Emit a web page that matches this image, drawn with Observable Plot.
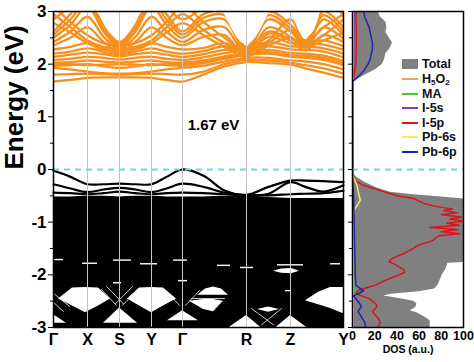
<!DOCTYPE html>
<html><head><meta charset="utf-8">
<script src="https://cdn.jsdelivr.net/npm/d3@7"></script>
<script src="https://cdn.jsdelivr.net/npm/@observablehq/plot@0.6"></script>
<style>
body{margin:0;background:#fff;}
#wrap{position:relative;width:474px;height:362px;overflow:hidden;font-family:"Liberation Sans",Arial,sans-serif;}
#band,#dos{position:absolute;top:0;}
#band{left:0;} #dos{left:345px;}
#legend{position:absolute;left:402px;top:56px;font-weight:bold;font-size:12.5px;color:#111;}
.row{display:flex;align-items:center;height:14.5px;}
.row.first{height:16px;}
.sw{display:inline-block;width:16px;margin-right:4px;}
sub{font-size:8px;vertical-align:-2px;line-height:0;}
</style></head>
<body><div id="wrap"><div id="band"></div><div id="dos"></div><div id="legend"></div></div>
<script>
// ---------- band structure data ----------
const kGrid = [0,17,34,50,66,82,98,113,129,150,171,193,215,237,252,270,290];
const symK = [0,34,66,98,129,193,237,290];
const symLabels = ["Γ","X","S","Y","Γ","R","Z","Y"];
const yTicks = [-3,-2,-1,0,1,2,3];
const yMinor = [-2.5,-1.5,-0.5,0.5,1.5,2.5];

// conduction bands (eV at kGrid)
const c1 = [1.67,1.70,1.74,1.75,1.75,1.75,1.74,1.70,1.67,1.80,1.96,2.04,2.02,1.99,1.92,1.84,1.74];
const c2 = [1.80,1.81,1.82,1.81,1.80,1.81,1.82,1.81,1.80,1.86,2.00,2.08,2.07,2.03,1.98,1.92,1.82];
const c3 = [1.93,1.90,1.86,1.83,1.82,1.83,1.86,1.90,1.93,1.97,2.05,2.12,2.12,2.07,2.05,2.00,1.90];
const c4 = [1.97,1.98,2.00,1.96,1.93,1.96,2.00,1.98,1.97,2.02,2.10,2.17,2.20,2.14,2.12,2.08,1.98];
const d2 = [2.00,2.00,1.98,1.99,2.00,1.99,1.98,2.00,2.00,2.04,2.12,2.19,2.23,2.17,2.16,2.12,2.02];
const c5 = [2.03,2.04,2.07,2.05,2.03,2.05,2.07,2.04,2.03,2.07,2.15,2.22,2.27,2.21,2.20,2.16,2.06];
const c6 = [2.08,2.10,2.14,2.12,2.09,2.12,2.14,2.10,2.08,2.13,2.21,2.27,2.34,2.28,2.27,2.24,2.13];
const c7 = [2.14,2.18,2.22,2.19,2.15,2.19,2.22,2.18,2.14,2.19,2.27,2.30,2.42,2.34,2.33,2.30,2.20];
const c8 = [2.20,2.24,2.30,2.24,2.19,2.24,2.30,2.24,2.20,2.25,2.34,2.22,2.52,2.40,2.40,2.37,2.27];
const c9 = [2.28,2.33,2.40,2.30,2.22,2.30,2.40,2.33,2.28,2.31,2.40,2.26,2.62,2.48,2.42,2.45,2.34];
const hb = [2.62,2.95,3.30,2.75,2.42,2.75,3.30,2.95,2.62,2.95,3.00,2.32,3.00,2.75,2.45,3.00,2.70];
const u4 = [2.56,2.85,3.20,2.68,2.38,2.68,3.20,2.85,2.56,2.88,2.93,2.28,2.93,2.68,2.40,2.93,2.62];
const u1 = [2.50,2.75,3.10,2.62,2.34,2.62,3.10,2.75,2.50,2.80,2.85,2.24,2.85,2.62,2.36,2.85,2.55];
const u2 = [2.42,2.62,2.90,2.52,2.29,2.52,2.90,2.62,2.42,2.65,2.70,2.19,2.70,2.52,2.31,2.70,2.48];
const u3 = [2.36,2.50,2.70,2.42,2.24,2.42,2.70,2.50,2.36,2.52,2.55,2.14,2.58,2.44,2.26,2.55,2.42];
const f1 = [2.85,3.10,3.40,3.40,3.40,3.40,3.40,3.10,2.85,3.10,3.40,3.40,3.40,3.10,3.40,3.40,2.90];
const f2 = [3.10,2.80,2.55,2.40,2.35,2.40,2.55,2.80,3.10,2.80,2.50,2.25,2.45,2.85,2.42,2.70,2.95];
const f3 = [2.95,2.70,2.45,2.33,2.30,2.33,2.45,2.70,2.95,2.65,2.40,2.20,2.40,2.65,2.38,2.55,2.85];
const f4 = [2.78,2.60,2.40,2.28,2.25,2.28,2.40,2.60,2.78,2.55,2.32,2.15,2.35,2.50,2.32,2.45,2.60];
const condBands = [c1,c2,c3,c4,d2,c5,c6,c7,c8,c9,hb,u4,u1,u2,u3,f1,f2,f3,f4];
// open (empty) regions above the highest conduction bands: [k, lower, upper]
const cHoleS = [[43,3.0,3.0],[47,2.9,3.0],[52,2.71,3.0],[58,2.56,3.0],[66,2.47,3.0],[74,2.56,3.0],[80,2.71,3.0],[85,2.9,3.0],[89,3.0,3.0]];
const cHoleR = [[170,3.0,3.0],[177,2.72,3.0],[186,2.45,3.0],[193,2.37,3.0],[200,2.45,3.0],[209,2.72,3.0],[216,3.0,3.0]];
const cHoleZ = [[240,2.92,3.0],[246,2.62,3.0],[252,2.50,3.0],[260,2.62,3.0],[266,2.92,3.0]];
const condHoles = [cHoleS,cHoleR,cHoleZ];

// valence top bands and dense-region envelope
const v1 = [-0.02,-0.14,-0.28,-0.28,-0.27,-0.28,-0.28,-0.14,0.00,-0.12,-0.40,-0.48,-0.33,-0.21,-0.21,-0.22,-0.24];
const v2 = [-0.28,-0.36,-0.43,-0.38,-0.35,-0.38,-0.43,-0.36,-0.27,-0.33,-0.44,-0.49,-0.46,-0.24,-0.33,-0.42,-0.30];
const v3 = [-0.44,-0.45,-0.47,-0.45,-0.42,-0.45,-0.47,-0.45,-0.44,-0.45,-0.47,-0.49,-0.49,-0.47,-0.46,-0.45,-0.40];
const valBands = [v1,v2,v3];
const denseTop = [-0.52,-0.52,-0.51,-0.51,-0.52,-0.51,-0.51,-0.52,-0.52,-0.52,-0.51,-0.51,-0.53,-0.55,-0.55,-0.55,-0.55];

// gaps (white) inside the dense valence region: [k, lower, upper]
const holeX = [[5,-2.46,-2.46],[19,-2.59,-2.25],[32,-2.72,-2.24],[45,-2.59,-2.25],[57,-2.46,-2.46]];
const holeY = [[74,-2.46,-2.46],[86,-2.59,-2.25],[98,-2.72,-2.24],[110,-2.59,-2.25],[123,-2.46,-2.46]];
const holeS = [[50,-2.92,-2.92],[66,-2.92,-2.63],[84,-2.92,-2.92]];
const holeG0 = [[0,-2.92,-2.76],[13,-2.92,-2.92]];
const holeG1 = [[114,-2.87,-2.87],[129,-2.87,-2.68],[145,-2.87,-2.87]];
const holeGR1 = [[144,-2.39,-2.39],[152,-2.39,-2.27],[160,-2.39,-2.23],[168,-2.39,-2.27],[175,-2.39,-2.39]];
const holeGR2 = [[136,-2.5,-2.5],[150,-2.66,-2.47],[160,-2.7,-2.47],[170,-2.5,-2.5]];
const holeR = [[175,-3.01,-3.01],[193,-3.01,-2.77],[208,-3.01,-3.01]];
const holeZ = [[222,-3.01,-3.01],[237,-3.01,-2.77],[254,-3.01,-3.01]];
const holeRZ = [[204,-2.66,-2.66],[215,-2.71,-2.61],[226,-2.66,-2.66]];
const holeYend = [[252,-2.49,-2.49],[265,-2.57,-2.33],[277,-2.64,-2.24],[290,-2.74,-2.24]];
const holeZmid = [[220,-1.93,-1.93],[228,-1.97,-1.89],[238,-1.98,-1.88],[246,-1.93,-1.93]];
const holes = [holeX,holeY,holeS,holeG0,holeG1,holeGR1,holeGR2,holeR,holeZ,holeRZ,holeYend,holeZmid];
// thin white band gaps: [k, E] polylines
const gapLines = [
  [[48,-2.28],[63,-2.58]],[[53,-2.22],[70,-2.55]],[[84,-2.28],[69,-2.58]],[[79,-2.22],[62,-2.55]],
  [[112,-2.3],[126,-2.58]],[[146,-2.3],[132,-2.58]],
  [[0,-2.35],[16,-2.6]],[[0,-2.52],[10,-2.7]],[[198,-2.64],[220,-2.95]],[[228,-2.64],[208,-2.95]],
  [[138,-2.45],[171,-2.45]]
];
// short flat white dashes: [k1, k2, E]
const dashes = [[0,10,-1.71],[29,44,-1.78],[60,78,-1.72],[87,104,-1.79],[120,134,-1.72],[164,177,-1.82],
  [187,200,-1.86],[224,250,-1.81],[277,287,-1.79],[60,68,-2.15],[125,134,-2.11],[232,238,-2.3]];
const gapLabel = [{k:160, e:0.85, t:"1.67 eV"}];

// ---------- DOS data: [E, DOS] ----------
const dosTotal = [[3.0,23],[2.9,25],[2.8,30],[2.7,31],[2.6,30],[2.5,33],[2.4,36],[2.3,34],[2.2,30],[2.1,29],[2.0,27],[1.9,21],[1.8,12],[1.72,5],[1.67,0],[-0.05,0],[-0.15,4],[-0.25,12],[-0.35,22],[-0.43,34],[-0.48,55],[-0.52,80],[-0.56,100],[-0.6,115],[-1.75,115],[-1.78,86],[-1.9,84],[-2.0,81],[-2.1,79],[-2.2,77],[-2.27,74],[-2.32,60],[-2.37,35],[-2.40,28],[-2.45,42],[-2.50,55],[-2.55,58],[-2.62,57],[-2.68,52],[-2.72,58],[-2.80,65],[-2.87,70],[-3.0,70]];
const dosH5O2 = [[3,0.5],[-3,0.5]];
const dosMA = [[3,0.3],[-1.7,0.3],[-1.8,1],[-1.9,2.5],[-2.0,2.5],[-2.1,2.8],[-2.2,2.5],[-2.3,1.5],[-2.4,0.5],[-3,0.3]];
const dosI5s = [[3,1.5],[1.7,1],[1.67,0],[-0.1,0],[-2.3,0.5],[-2.5,1],[-3,1]];
const dosI5p = [[3.0,3],[2.5,3.5],[2.0,3],[1.75,1],[1.67,0],[-0.1,0],[-0.21,2.5],[-0.3,10],[-0.4,25],[-0.5,40],[-0.55,55],[-0.6,60],[-0.65,65],[-0.7,75],[-0.75,90],[-0.78,82],[-0.82,94],[-0.86,80],[-0.9,98],[-0.94,88],[-0.98,100],[-1.02,85],[-1.06,96],[-1.1,70],[-1.14,95],[-1.18,80],[-1.22,97],[-1.26,78],[-1.3,75],[-1.35,72],[-1.4,65],[-1.45,58],[-1.5,55],[-1.55,50],[-1.6,46],[-1.65,40],[-1.7,35],[-1.75,33],[-1.8,38],[-1.85,42],[-1.9,46],[-1.95,47],[-2.0,42],[-2.05,36],[-2.1,30],[-2.15,25],[-2.2,20],[-2.25,12],[-2.3,5],[-2.35,3],[-2.4,8],[-2.45,15],[-2.5,18],[-2.55,21],[-2.6,22],[-2.65,20],[-2.7,18],[-2.75,20],[-2.8,22],[-2.85,24],[-2.9,25],[-2.95,24],[-3.0,22]];
const dosPb6s = [[3,0.5],[1.67,0.3],[-0.1,0],[-0.2,2],[-0.3,4],[-0.4,5],[-0.5,6],[-0.58,7],[-0.66,5],[-0.75,2],[-0.85,1],[-1.2,0.5],[-3,0.5]];
const dosPb6p = [[3.0,10],[2.9,11],[2.8,13],[2.7,15],[2.6,16],[2.5,17],[2.4,18],[2.3,18],[2.2,17],[2.1,16],[2.0,14],[1.9,11],[1.8,7],[1.72,3],[1.67,0],[-0.1,0],[-0.5,1],[-1.0,1.5],[-1.5,2],[-2.0,2.5],[-2.2,3],[-2.3,10],[-2.35,6],[-2.4,1],[-2.5,5],[-2.6,8],[-2.7,5],[-2.8,8],[-2.9,11],[-3.0,12]];
const dosTicks = [0,20,40,60,80,100];
const seriesNames = ["Total","H5O2","MA","I-5s","I-5p","Pb-6s","Pb-6p"];
const seriesColors = ["#808080","#e9a35a","#3cc83c","#8a3fb8","#d8141e","#f2ee55","#2222b0"];
const seriesData = [dosTotal,dosH5O2,dosMA,dosI5s,dosI5p,dosPb6s,dosPb6p];

// ---------- build ----------
const FONT = "'Liberation Sans', Arial, Helvetica, sans-serif";
const ORANGE = "#f5901e";
const CYAN = "#6ed7e4";
const labelMap = new Map(symK.map((k,i)=>[k, symLabels[i]]));
const bandRows = (bands) => bands.flatMap((b,i)=>b.map((e,j)=>({k:kGrid[j], e, band:i})));
const toHoleRows = (hs) => hs.flatMap((h,i)=>h.map(([k,lo,hi])=>({k,lo,hi,id:i})));
const gapRows = gapLines.flatMap((g,i)=>g.map(([k,e])=>({k,e,id:i})));
const denseRows = kGrid.map((k,j)=>({k, top: denseTop[j]}));

const band = Plot.plot({
  width: 345, height: 362,
  marginLeft: 53, marginRight: 2, marginTop: 11, marginBottom: 35,
  x: {domain: [0, 290], axis: null},
  y: {domain: [-3, 3], axis: null},
  style: {fontFamily: FONT, fontWeight: "bold", background: "transparent", overflow: "visible", color: "black"},
  marks: [
    Plot.areaY(denseRows, {x: "k", y1: -3, y2: "top", fill: "black", curve: "catmull-rom"}),
    Plot.areaY(toHoleRows(holes), {x: "k", y1: "lo", y2: "hi", z: "id", fill: "white", clip: true}),
    Plot.line(gapRows, {x: "k", y: "e", z: "id", stroke: "white", strokeWidth: 0.8, clip: true}),
    Plot.ruleY(dashes, {x1: d=>d[0], x2: d=>d[1], y: d=>d[2], stroke: "white", strokeWidth: 1.4}),
    Plot.line(bandRows(valBands), {x: "k", y: "e", z: "band", stroke: "black", strokeWidth: 2.2, curve: "catmull-rom"}),
    Plot.line(bandRows(condBands), {x: "k", y: "e", z: "band", stroke: ORANGE, strokeWidth: 2.3, curve: "catmull-rom", clip: true}),
    Plot.areaY(toHoleRows(condHoles), {x: "k", y1: "lo", y2: "hi", z: "id", fill: "white", curve: "monotone-x"}),
    Plot.ruleX(symK.slice(1, -1), {stroke: "#c4c4c4", strokeWidth: 1}),
    Plot.ruleY([0], {stroke: CYAN, strokeWidth: 2, strokeDasharray: "6,5"}),
    Plot.text(gapLabel, {x: "k", y: "e", text: "t", fontSize: 15, fontWeight: "bold", fill: "black"}),
    Plot.frame({stroke: "black", strokeWidth: 1.5}),
    Plot.axisY({ticks: yTicks, label: null, tickSize: 5, tickPadding: 2, fontSize: 17, fontWeight: "bold", tickFormat: d => String(d)}),
    Plot.axisY({ticks: yMinor, label: null, tickSize: 3, tickFormat: () => ""}),
    Plot.axisX({ticks: symK, label: null, tickSize: 0, tickPadding: 6, fontSize: 16, fontWeight: "bold", tickFormat: d => labelMap.get(d)}),
    Plot.text(["Energy (eV)"], {frameAnchor: "left", dx: -39, rotate: -90, fontSize: 26, fontWeight: "bold", fill: "black"})
  ]
});
document.getElementById("band").appendChild(band);

const dosMarks = [
  Plot.areaX(dosTotal.map(([e,v])=>({e,v})), {y: "e", x1: 0, x2: "v", fill: seriesColors[0], clip: true})
];
for (let i = 1; i < seriesData.length; i++) {
  dosMarks.push(Plot.line(seriesData[i].map(([e,v])=>({e,v})), {x: "v", y: "e", stroke: seriesColors[i], strokeWidth: 1.5, clip: true}));
}
dosMarks.push(
  Plot.ruleY([0], {stroke: CYAN, strokeWidth: 2, strokeDasharray: "6,5"}),
  Plot.frame({stroke: "black", strokeWidth: 1.5}),
  Plot.axisY({ticks: yTicks, label: null, tickSize: 4, tickFormat: () => ""}),
  Plot.axisY({ticks: yMinor, label: null, tickSize: 3, tickFormat: () => ""}),
  Plot.axisX({ticks: dosTicks, label: null, tickSize: 0, tickPadding: 4, fontSize: 12.5, fontWeight: "bold", tickFormat: d => String(d)}),
  Plot.text(["DOS (a.u.)"], {frameAnchor: "bottom", dy: 25, fontSize: 10.5, fontWeight: "bold", fill: "black"})
);
const dos = Plot.plot({
  width: 129, height: 362,
  marginLeft: 7, marginRight: 11, marginTop: 11, marginBottom: 35,
  x: {domain: [0, 100], axis: null},
  y: {domain: [-3, 3], axis: null},
  style: {fontFamily: FONT, fontWeight: "bold", background: "transparent", overflow: "visible", color: "black"},
  marks: dosMarks
});
document.getElementById("dos").appendChild(dos);

// legend
const leg = document.getElementById("legend");
seriesNames.forEach((name, i) => {
  const row = document.createElement("div");
  row.className = "row" + (i === 0 ? " first" : "");
  const sw = document.createElement("span");
  sw.className = "sw";
  sw.style.background = seriesColors[i];
  sw.style.height = i === 0 ? "10px" : "2px";
  row.appendChild(sw);
  const t = document.createElement("span");
  if (name === "H5O2") t.innerHTML = "H<sub>5</sub>O<sub>2</sub>"; else t.textContent = name;
  row.appendChild(t);
  leg.appendChild(row);
});
</script></body></html>
